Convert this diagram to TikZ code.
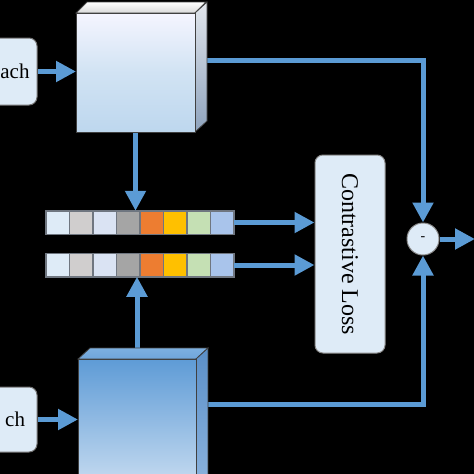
\documentclass[tikz,border=0pt]{standalone}
\usepackage{fontspec}
\setmainfont{Liberation Serif}
\usetikzlibrary{arrows.meta,calc}
\definecolor{arrowblue}{HTML}{5B9BD5}
\definecolor{boxfill}{HTML}{DEEBF7}
\definecolor{cellline}{HTML}{6F7680}
\definecolor{cA}{HTML}{DEEBF7}
\definecolor{cB}{HTML}{D0CECE}
\definecolor{cC}{HTML}{DAE3F3}
\definecolor{cD}{HTML}{A5A5A5}
\definecolor{cE}{HTML}{ED7D31}
\definecolor{cF}{HTML}{FFC000}
\definecolor{cG}{HTML}{C5E0B4}
\definecolor{cH}{HTML}{A9C4EB}
\definecolor{sideTop}{HTML}{E2E6EC}
\definecolor{sideBot}{HTML}{8EA3BD}
\definecolor{bTop}{HTML}{7DB0E1}
\definecolor{bTopB}{HTML}{6FA5DA}
\definecolor{bSideT}{HTML}{5A8FC8}
\definecolor{bSideB}{HTML}{8DB4DE}
\definecolor{bFrontT}{HTML}{5E9BD6}
\definecolor{bFrontB}{HTML}{C9DDF1}
\begin{document}
\begin{tikzpicture}[x=1pt,y=-1pt,
  arr/.style={draw=arrowblue,line width=5pt,-{Triangle[length=20pt,width=20pt]}},
  inbox/.style={draw=black!55,line width=1pt,fill=boxfill,rounded corners=8pt},
  celln/.style={draw=cellline,line width=1.5pt,minimum width=23.5pt,minimum height=23.5pt,inner sep=0pt,outer sep=0pt},
  face/.style={draw=black!75,line width=0.8pt},
  bigfont/.style={font=\fontsize{24}{28}\selectfont},
  sidefont/.style={font=\fontsize{21}{25}\selectfont},
]
\fill[black] (0,0) rectangle (474,474);
\useasboundingbox (0,0) rectangle (474,474);
\clip (0,0) rectangle (474,474);

% input boxes
\node[inbox,sidefont,minimum width=67pt,minimum height=67pt,text width=52pt,inner xsep=7.5pt,align=right] (tl) at (3.5,71.5) {ach};
\node[inbox,sidefont,minimum width=67pt,minimum height=65pt,text width=43pt,inner xsep=12pt,align=right] (bl) at (3.5,419.5) {ch};

% cube front faces (named)
\node[minimum width=119pt,minimum height=119pt,inner sep=0pt,outer sep=0pt] (tc) at (135.5,72.5) {};
\node[minimum width=118pt,minimum height=130pt,inner sep=0pt,outer sep=0pt] (bc) at (137,424) {};

% feature vectors
\node[minimum width=188pt,minimum height=23.5pt,inner sep=0pt,outer sep=0pt] (v1) at (140,222.5) {};
\node[minimum width=188pt,minimum height=23.5pt,inner sep=0pt,outer sep=0pt] (v2) at (140,265) {};
\foreach \c [count=\i] in {cA,cB,cC,cD,cE,cF,cG,cH}{
  \node[celln,fill=\c] (v1c\i) at ($(v1.west)+(\i*23.5-11.75,0)$) {};
  \node[celln,fill=\c] (v2c\i) at ($(v2.west)+(\i*23.5-11.75,0)$) {};
}

% contrastive loss
\node[inbox,draw=black!45,minimum width=70pt,minimum height=198pt] (loss) at (350,254) {};
\node[bigfont,rotate=-90] (losst) at (loss.center) {Contrastive Loss};

% subtraction circle
\node[circle,draw=black!45,line width=1pt,fill=boxfill,minimum size=32pt,inner sep=0pt,font=\fontsize{14}{16}\selectfont] (minus) at (423,239) {-};

\coordinate (tcr) at (207,60);
\coordinate (bcr) at (207,404);
\coordinate (out) at (475,239);

% connectors
\draw[arr] (tl.east) -- (tl.east -| tc.west);
\draw[arr] (bl.east) -- (bl.east -| bc.west);
\draw[arr] (tc.south) -- (tc.south |- v1.north);
\draw[arr] (bc.north) -- (bc.north |- v2.south);
\draw[arr] (v1.east) -- (v1.east -| loss.west);
\draw[arr] (v2.east) -- (v2.east -| loss.west);
\draw[arr] (tcr) -| (minus.north);
\draw[arr] (bcr) -| (minus.south);
\draw[arr] (minus.east) -- (out);

% top cube
\shade[face,top color=white,bottom color=black!15] (tc.north west) -- ++(11,-11) -- ++(119,0) -- (tc.north east) -- cycle;
\shade[face,top color=sideTop,bottom color=sideBot] (tc.north east) -- ++(12,-11) -- ++(0,119) -- (tc.south east) -- cycle;
\shade[face,top color=blue!4!white,bottom color=arrowblue!40!white,middle color=arrowblue!28!white] (tc.north west) rectangle (tc.south east);

% bottom cube
\shade[face,top color=bTop,bottom color=bTopB] (bc.north west) -- ++(12,-11) -- ++(118,0) -- (bc.north east) -- cycle;
\shade[face,top color=bSideT,bottom color=bSideB] (bc.north east) -- ++(12,-11) -- ++(0,140) -- (bc.south east) -- cycle;
\shade[face,top color=bFrontT,bottom color=bFrontB] (bc.north west) rectangle (bc.south east);
\end{tikzpicture}
\end{document}
